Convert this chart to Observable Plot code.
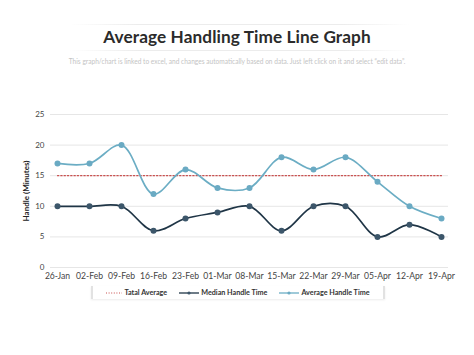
<!DOCTYPE html>
<html>
<head>
<meta charset="utf-8">
<script src="https://cdn.jsdelivr.net/npm/d3@7"></script>
<script src="https://cdn.jsdelivr.net/npm/@observablehq/plot@0.6"></script>
<style>
  html, body { margin: 0; padding: 0; background: #fff; }
  #page { position: relative; width: 474px; height: 355px; overflow: hidden; font-family: Lato, "Open Sans", sans-serif; }
  .rule { position: absolute; left: 70px; width: 340px; height: 1px; background: linear-gradient(to right, rgba(230,230,230,0), #ececec 20%, #ececec 80%, rgba(230,230,230,0)); }
  #title { position: absolute; top: 26px; left: 0; width: 474px; text-align: center; font-size: 17.2px; font-weight: 700; color: #2b2b2b; letter-spacing: 0.1px; }
  #subtitle { position: absolute; top: 57px; left: 0; width: 474px; text-align: center; font-size: 6.6px; color: #c4c4c4; }
  #chart { position: absolute; top: 100px; left: 0; }
  #chart svg g[aria-label="y-axis label"] text { font-weight: 700; fill: #222; }
  #legend { position: absolute; top: 286px; left: 91px; width: 294px; height: 13px; box-sizing: border-box;
            border-left: 2px solid #e2e2e2; border-right: 2px solid #e2e2e2; box-shadow: 0 1px 2px rgba(0,0,0,0.08);
            display: flex; align-items: center; justify-content: center; gap: 12px; font-size: 7.2px; font-weight: 700; color: #333; }
  .item { display: flex; align-items: center; gap: 2px; }
</style>
</head>
<body>
<div id="page">
  <div class="rule" style="top:24px"></div>
  <div id="title">Average Handling Time Line Graph</div>
  <div class="rule" style="top:50px"></div>
  <div id="subtitle">This graph/chart is linked to excel, and changes automatically based on data. Just left click on it and select “edit data”.</div>
  <div id="chart"></div>
  <div id="legend"></div>
</div>
<script>
// Weekly dates on the x axis
const weeks = ["26-Jan","02-Feb","09-Feb","16-Feb","23-Feb","01-Mar","08-Mar","15-Mar","22-Mar","29-Mar","05-Apr","12-Apr","19-Apr"];
// Handle time per week, in minutes
const averageHandle = [17, 17, 20, 12, 16, 13, 13, 18, 16, 18, 14, 10, 8];
const medianHandle  = [10, 10, 10, 6, 8, 9, 10, 6, 10, 10, 5, 7, 5];
// Overall average across the period
const totalAverage = 15;
const yTicks = [0, 5, 10, 15, 20, 25];

const seriesNames = ["Tatal Average", "Median Handle Time", "Average Handle Time"];
const colors = { total: "#c9504f", median: "#1f3546", medianDot: "#3c566a", average: "#6badc4", averageDot: "#6aaac3" };

const rows = weeks.map((w, i) => ({ week: w, average: averageHandle[i], median: medianHandle[i], total: totalAverage }));

const chart = Plot.plot({
  width: 474,
  height: 190,
  marginTop: 14,
  marginBottom: 23,
  marginLeft: 50,
  marginRight: 26,
  style: { fontFamily: "Lato, 'Open Sans', sans-serif", fontSize: "8.6px", color: "#444", background: "#fff" },
  x: { type: "point", domain: weeks, padding: 0.06 },
  y: { domain: [0, 25], ticks: yTicks },
  marks: [
    Plot.gridY(yTicks, { stroke: "#e6e6e6", strokeOpacity: 1, strokeWidth: 1 }),
    Plot.axisX({ tickSize: 0, tickPadding: 5, label: null, fontSize: 8.6 }),
    Plot.axisY(yTicks, { tickSize: 0, tickPadding: 6, label: "Handle (Minutes)", labelAnchor: "center", labelArrow: "none", labelOffset: 27, fontSize: 8 }),
    Plot.lineY(rows, { x: "week", y: "total", stroke: colors.total, strokeWidth: 1.2, strokeDasharray: "1.3,2" }),
    Plot.lineY(rows, { x: "week", y: "median", stroke: colors.median, strokeWidth: 1.7, curve: "catmull-rom" }),
    Plot.lineY(rows, { x: "week", y: "average", stroke: colors.average, strokeWidth: 1.7, curve: "catmull-rom" }),
    Plot.dot(rows, { x: "week", y: "median", fill: colors.medianDot, r: 3 }),
    Plot.dot(rows, { x: "week", y: "average", fill: colors.averageDot, r: 3 })
  ]
});
document.getElementById("chart").appendChild(chart);

// Legend entries
const legend = document.getElementById("legend");
const swatches = [
  `<svg width="16" height="6"><line x1="0" y1="3" x2="16" y2="3" stroke="${colors.total}" stroke-width="1" stroke-dasharray="1,1.6"/></svg>`,
  `<svg width="20" height="6"><line x1="0" y1="3" x2="20" y2="3" stroke="${colors.median}" stroke-width="1.3"/><circle cx="10" cy="3" r="1.6" fill="${colors.medianDot}"/></svg>`,
  `<svg width="20" height="6"><line x1="0" y1="3" x2="20" y2="3" stroke="${colors.average}" stroke-width="1.3"/><circle cx="10" cy="3" r="1.6" fill="${colors.averageDot}"/></svg>`
];
seriesNames.forEach((name, i) => {
  const el = document.createElement("div");
  el.className = "item";
  el.innerHTML = swatches[i] + `<span>${name}</span>`;
  legend.appendChild(el);
});
</script>
</body>
</html>
